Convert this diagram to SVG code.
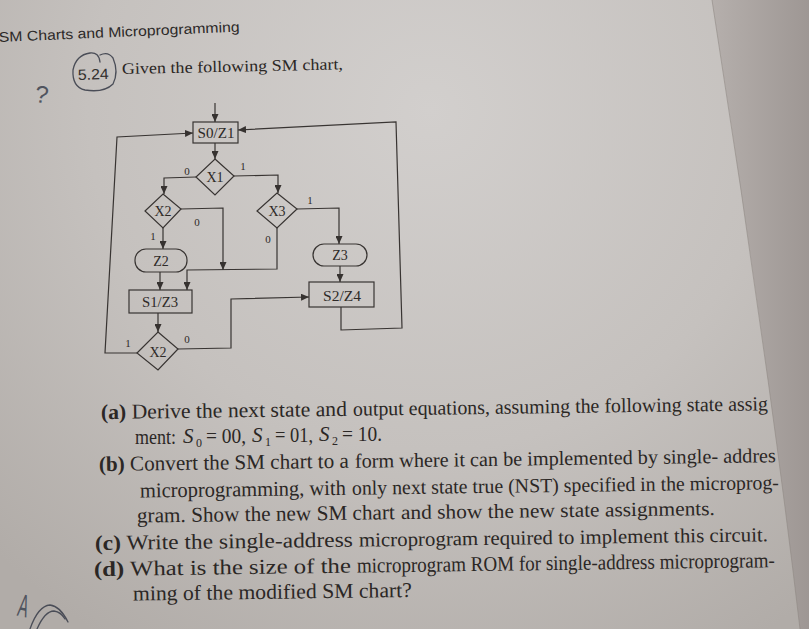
<svg xmlns="http://www.w3.org/2000/svg" width="809" height="629" viewBox="0 0 809 629">
<defs>
<radialGradient id="paper" cx="430" cy="110" r="620" gradientUnits="userSpaceOnUse">
<stop offset="0" stop-color="#d2cfcd"/>
<stop offset="0.55" stop-color="#c5c1be"/>
<stop offset="1" stop-color="#b1aca8"/>
</radialGradient>
<linearGradient id="fold" x1="700" y1="0" x2="809" y2="0" gradientUnits="userSpaceOnUse">
<stop offset="0" stop-color="#b8b2af"/>
<stop offset="1" stop-color="#9e9794"/>
</linearGradient>
<marker id="ah" markerWidth="8" markerHeight="7" refX="8" refY="3.5" orient="auto" markerUnits="userSpaceOnUse">
<path d="M0,0 L8,3.5 L0,7 z" fill="#363230"/>
</marker>
<style>
.ar{fill:none;stroke:#383432;stroke-width:1.2;marker-end:url(#ah)}
.bx{fill:none;stroke:#383432;stroke-width:1.2}
.nt{font-family:"Liberation Serif",serif;font-size:14px;fill:#2e2a28;text-anchor:middle}
.lb{font-family:"Liberation Serif",serif;font-size:11px;fill:#2e2a28;text-anchor:middle}
.bt{font-family:"Liberation Serif",serif;font-size:21px;fill:#2b2725}
.sm{font-size:20px}
.bd{font-weight:bold}
.it{font-style:italic}
.sb{font-family:"Liberation Serif",serif;font-size:12px;fill:#2b2725}
.pen{fill:none;stroke:#4a4d57;stroke-width:1.3;stroke-linecap:round}
</style>
</defs>
<rect width="809" height="629" fill="url(#paper)"/>

<!-- header -->
<text x="-1" y="42" transform="rotate(-2.5 0 42)" font-family="Liberation Sans, sans-serif" font-size="14" fill="#2c2928" textLength="241" lengthAdjust="spacingAndGlyphs">SM Charts and Microprogramming</text>
<text x="78" y="80" transform="rotate(-2 78 80)" font-family="Liberation Sans, sans-serif" font-size="15" fill="#33302e" textLength="31" lengthAdjust="spacingAndGlyphs">5.24</text>
<path class="pen" d="M100,62 Q99,52 90,53 Q76,55 73,70 Q72,87 85,90 Q104,93 113,84 Q119,72 113,58 Q108,51 100,55"/>
<text x="122" y="74" transform="rotate(-1.2 122 74)" font-family="Liberation Serif, serif" font-size="16" fill="#2b2725" textLength="221" lengthAdjust="spacingAndGlyphs">Given the following SM chart,</text>
<text x="35" y="103" transform="rotate(8 44 95)" font-family="Liberation Sans, sans-serif" font-size="24" fill="#50545e">?</text>

<!-- connectors -->
<g id="connectors">
<path class="ar" d="M215,103 L215,122"/>
<path class="ar" d="M215,143 L215,159"/>
<path class="ar" d="M196,177 L164,178 L164,194"/>
<path class="ar" d="M234,176 L278,175 L278,193"/>
<path class="ar" d="M163,228 L163,249"/>
<path class="ar" d="M181,209 L223,208 L223,270"/>
<path class="ar" d="M277,228 L277,269 L187,270 L187,290"/>
<path class="ar" d="M297,209 L339,208 L339,244"/>
<path class="ar" d="M160,272 L160,290"/>
<path class="ar" d="M340,266 L340,282"/>
<path class="ar" d="M158,313 L158,332"/>
<path class="ar" d="M137,353 L105,353 L117,137 L193,133"/>
<path class="ar" d="M178,349 L231,348 L231,299 L309,297"/>
<path class="ar" d="M341,307 L341,330 L402,328 L396,122 L238,130"/>
</g>
<g id="edge-labels">
<text class="lb" x="187" y="175">0</text>
<text class="lb" x="243" y="170">1</text>
<text class="lb" x="153" y="240">1</text>
<text class="lb" x="197" y="226">0</text>
<text class="lb" x="310" y="204">1</text>
<text class="lb" x="268" y="243">0</text>
<text class="lb" x="128" y="347">1</text>
<text class="lb" x="187" y="343">0</text>
</g>

<!-- nodes -->
<g id="S0">
<rect class="bx" x="193" y="122" width="45" height="21"/>
<text class="nt" x="216" y="138" textLength="37" lengthAdjust="spacingAndGlyphs">S0/Z1</text>
</g>
<g id="X1">
<polygon class="bx" points="215,159 234,176 215,195 196,177"/>
<text class="nt" x="215" y="182">X1</text>
</g>
<g id="X2a">
<polygon class="bx" points="163,194 181,209 163,228 145,211"/>
<text class="nt" x="163" y="216">X2</text>
</g>
<g id="X3">
<polygon class="bx" points="277,193 297,209 277,228 257,211"/>
<text class="nt" x="277" y="216">X3</text>
</g>
<g id="Z2">
<rect class="bx" x="135" y="249" width="52" height="23" rx="11"/>
<text class="nt" x="161" y="266">Z2</text>
</g>
<g id="Z3">
<rect class="bx" x="313" y="244" width="54" height="22" rx="11"/>
<text class="nt" x="340" y="260">Z3</text>
</g>
<g id="S1">
<rect class="bx" x="129" y="290" width="63" height="23"/>
<text class="nt" x="160" y="307" textLength="36" lengthAdjust="spacingAndGlyphs">S1/Z3</text>
</g>
<g id="S2">
<rect class="bx" x="309" y="282" width="65" height="25"/>
<text class="nt" x="342" y="301" textLength="38" lengthAdjust="spacingAndGlyphs">S2/Z4</text>
</g>
<g id="X2b">
<polygon class="bx" points="158,332 178,349 158,370 137,353"/>
<text class="nt" x="158" y="357">X2</text>
</g>

<!-- body text -->
<g id="body">
<text class="bt" x="101" y="419" transform="rotate(-0.75 101 419)" textLength="246" lengthAdjust="spacingAndGlyphs"><tspan class="bd">(a)</tspan> Derive the next state and</text>
<text class="bt sm" x="353" y="415.7" transform="rotate(-0.75 353 415.7)" textLength="415" lengthAdjust="spacingAndGlyphs">output equations, assuming the following state assig</text>

<text class="bt" x="135" y="443.5" textLength="41" lengthAdjust="spacingAndGlyphs">ment:</text>
<text class="bt it" x="183" y="443">S</text>
<text class="sb" x="196" y="447">0</text>
<text class="bt" x="206" y="442.6" textLength="40" lengthAdjust="spacingAndGlyphs">= 00,</text>
<text class="bt it" x="252" y="442">S</text>
<text class="sb" x="265" y="446">1</text>
<text class="bt" x="275" y="441.7" textLength="38" lengthAdjust="spacingAndGlyphs">= 01,</text>
<text class="bt it" x="319" y="441.1">S</text>
<text class="sb" x="332" y="445">2</text>
<text class="bt" x="342" y="440.8" textLength="40" lengthAdjust="spacingAndGlyphs">= 10.</text>

<text class="bt" x="99" y="471" transform="rotate(-0.75 99 471)" textLength="250" lengthAdjust="spacingAndGlyphs"><tspan class="bd">(b)</tspan> Convert the SM chart to a</text>
<text class="bt sm" x="355" y="467.7" transform="rotate(-0.75 355 467.7)" textLength="421" lengthAdjust="spacingAndGlyphs">form where it can be implemented by single- addres</text>

<text class="bt" x="140" y="497.5" transform="rotate(-0.75 140 497.5)" textLength="206" lengthAdjust="spacingAndGlyphs">microprogramming, with</text>
<text class="bt sm" x="352" y="494.7" transform="rotate(-0.75 352 494.7)" textLength="427" lengthAdjust="spacingAndGlyphs">only next state true (NST) specified in the microprog-</text>

<text class="bt" x="137" y="522.5" transform="rotate(-0.75 137 522.5)" textLength="258" lengthAdjust="spacingAndGlyphs">gram. Show the new SM chart</text>
<text class="bt sm" x="401" y="519.1" transform="rotate(-0.75 401 519.1)" textLength="314" lengthAdjust="spacingAndGlyphs">and show the new state assignments.</text>

<text class="bt" x="95" y="550" transform="rotate(-0.75 95 550)" textLength="258" lengthAdjust="spacingAndGlyphs"><tspan class="bd">(c)</tspan> Write the single-address</text>
<text class="bt sm" x="359" y="546.6" transform="rotate(-0.75 359 546.6)" textLength="409" lengthAdjust="spacingAndGlyphs">microprogram required to implement this circuit.</text>

<text class="bt" x="94" y="576" transform="rotate(-0.75 94 576)" textLength="257" lengthAdjust="spacingAndGlyphs"><tspan class="bd">(d)</tspan> What is the size of the</text>
<text class="bt" x="357" y="572.6" transform="rotate(-0.75 357 572.6)" font-size="19" textLength="418" lengthAdjust="spacingAndGlyphs">microprogram ROM for single-address microprogram-</text>

<text class="bt" x="133" y="600.6" transform="rotate(-0.75 133 600.6)" textLength="279" lengthAdjust="spacingAndGlyphs">ming of the modified SM chart?</text>
</g>

<!-- page fold on the right -->
<path d="M712,0 Q742,190 768,380 Q786,510 800,629 L809,629 L809,0 Z" fill="url(#fold)"/>
<path d="M712,0 Q742,190 768,380 Q786,510 800,629" fill="none" stroke="#8f8884" stroke-width="1" opacity="0.6"/>

<!-- pen marks bottom left -->
<text x="20" y="617" transform="rotate(12 26 600)" font-family="Liberation Sans, sans-serif" font-size="32" fill="#50545e" textLength="10" lengthAdjust="spacingAndGlyphs">A</text>
<path class="pen" d="M30,629 Q38,606 50,605 Q60,606 68,622"/>
<path class="pen" d="M37,629 Q45,611 54,611 Q61,612 65,619"/>
</svg>
